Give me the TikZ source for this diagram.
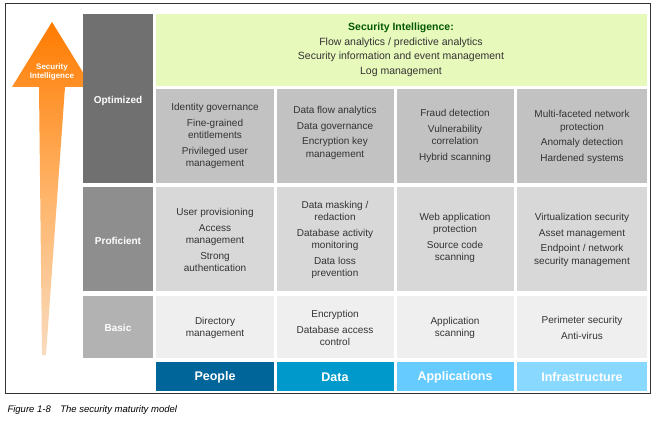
\documentclass[tikz,border=0pt]{standalone}
\usepackage{fontspec}
\setmainfont{Liberation Sans}
\begin{document}
\begin{tikzpicture}[x=1pt,y=-1pt,
  cell/.style={anchor=center,align=center,font=\fontsize{10}{12.5}\selectfont,text=black!80},
  lab/.style={anchor=center,font=\fontsize{10}{12}\selectfont\bfseries,text=white},
  foot/.style={anchor=center,font=\fontsize{12.5}{14}\selectfont\bfseries,text=white}]
\useasboundingbox (0,0) rectangle (660,422);
\draw[black!80,line width=0.8pt] (5,3) rectangle (650,393);
\definecolor{gA}{HTML}{707070}\definecolor{gB}{HTML}{8E8E8E}\definecolor{gC}{HTML}{B2B2B2}
\definecolor{cA}{HTML}{C2C2C2}\definecolor{cB}{HTML}{D8D8D8}\definecolor{cC}{HTML}{EFEFEF}
\definecolor{grn}{HTML}{E8F9BC}
\definecolor{bP}{HTML}{006699}\definecolor{bD}{HTML}{0099CC}\definecolor{bA}{HTML}{66CCFF}\definecolor{bI}{HTML}{88D8FF}
% arrow
\shade[top color=orange!85!red!90!yellow, bottom color=orange!20!white!90!brown, middle color=orange!60!white]
  (52,22) -- (92,87) -- (65,87) -- (46,355) -- (42,355) -- (39,87) -- (12,87) -- cycle;
\node[font=\fontsize{8}{9}\selectfont\bfseries,text=white,align=center] (arr) at (52,72) {Security\\Intelligence};
% label column
\fill[gA] (83,14) rectangle (153,183);
\fill[gB] (83,187) rectangle (153,291);
\fill[gC] (83,296) rectangle (153,358);
\node[lab] (lo) at (118,101) {Optimized};
\node[lab] (lp) at (118,241) {Proficient};
\node[lab] (lb) at (118,328) {Basic};
% green
\fill[grn] (156,14) rectangle (647,86);
\node[cell,font=\fontsize{10.5}{14.5}\selectfont] (si) at (401,50) {\textbf{\textcolor{green!35!black}{Security Intelligence:}}\\Flow analytics / predictive analytics\\Security information and event management\\Log management};
% cells
\foreach \xa/\xb [count=\i] in {156/274,277/394,397/514,517/647}{
  \fill[cA] (\xa,89) rectangle (\xb,183);
  \fill[cB] (\xa,187) rectangle (\xb,291);
  \fill[cC] (\xa,296) rectangle (\xb,358);
}
\node[cell] (o1) at (215,136) {Identity governance\\[3pt]Fine-grained\\entitlements\\[3pt]Privileged user\\management};
\node[cell] (o2) at (335,133) {Data flow analytics\\[3pt]Data governance\\[3pt]Encryption key\\management};
\node[cell] (o3) at (455,136) {Fraud detection\\[3pt]Vulnerability\\correlation\\[3pt]Hybrid scanning};
\node[cell] (o4) at (582,137) {Multi-faceted network\\protection\\[3pt]Anomaly detection\\[3pt]Hardened systems};
\node[cell] (p1) at (215,240) {User provisioning\\[3pt]Access\\management\\[3pt]Strong\\authentication};
\node[cell] (p2) at (335,240) {Data masking /\\redaction\\[3pt]Database activity\\monitoring\\[3pt]Data loss\\prevention};
\node[cell] (p3) at (455,238) {Web application\\protection\\[3pt]Source code\\scanning};
\node[cell] (p4) at (582,240) {Virtualization security\\[3pt]Asset management\\[3pt]Endpoint / network\\security management};
\node[cell] (b1) at (215,328) {Directory\\management};
\node[cell] (b2) at (335,328) {Encryption\\[3pt]Database access\\control};
\node[cell] (b3) at (455,328) {Application\\scanning};
\node[cell] (b4) at (582,328) {Perimeter security\\[3pt]Anti-virus};
% footer
\fill[bP] (156,362) rectangle (274,391);
\fill[bD] (277,362) rectangle (394,391);
\fill[bA] (397,362) rectangle (514,391);
\fill[bI] (517,362) rectangle (647,391);
\node[foot] (fp) at (215,377) {People};
\node[foot] (fd) at (335,377) {Data};
\node[foot] (fa) at (455,377) {Applications};
\node[foot] (fi) at (582,377) {Infrastructure};
\node[anchor=west,font=\fontsize{9.5}{11}\selectfont\itshape] (cap) at (4,410) {Figure 1-8\quad The security maturity model};
\end{tikzpicture}
\end{document}
